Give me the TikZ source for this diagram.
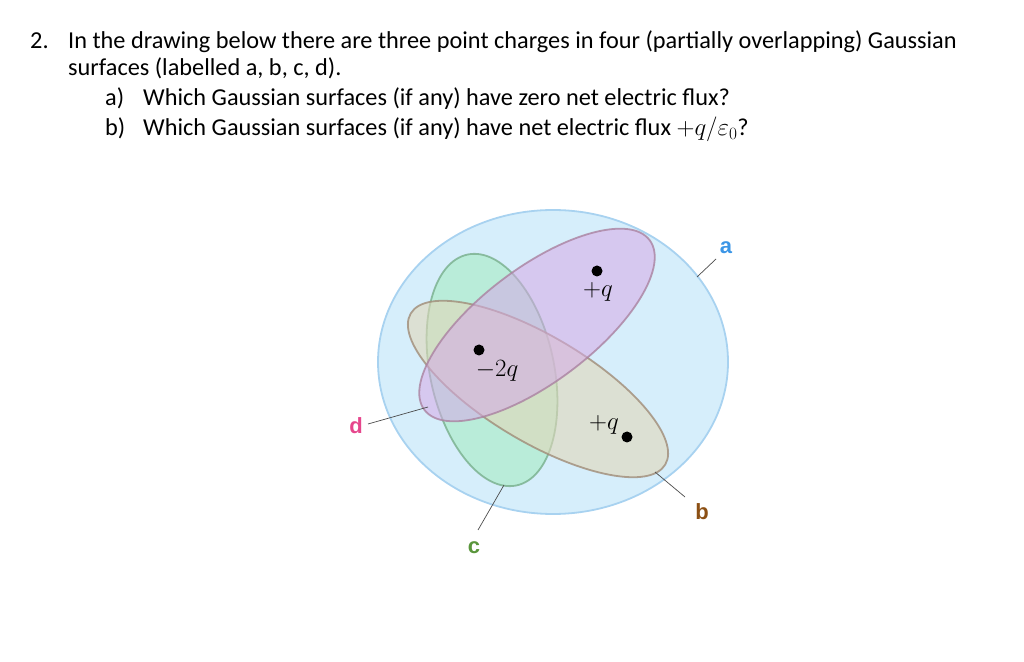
\documentclass[tikz,border=0pt]{standalone}
\usepackage{fontspec}
\setmainfont{Carlito}
\newfontfamily\lab{Liberation Sans}
\usetikzlibrary{shapes.geometric}
\definecolor{afill}{RGB}{214,238,251}
\definecolor{aline}{RGB}{168,210,240}
\definecolor{dfill}{RGB}{214,170,230}
\definecolor{dline}{RGB}{170,130,160}
\definecolor{cfill}{RGB}{170,235,200}
\definecolor{cline}{RGB}{120,175,140}
\definecolor{bfill}{RGB}{225,215,185}
\definecolor{bline}{RGB}{160,140,120}
\definecolor{acol}{RGB}{60,150,230}
\definecolor{bcol}{RGB}{140,80,20}
\definecolor{ccol}{RGB}{90,150,60}
\definecolor{dcol}{RGB}{230,70,140}
\tikzset{
 surf/.style={ellipse,line width=1.8pt,inner sep=0pt,outer sep=0pt},
 dotc/.style={circle,fill=black,inner sep=0pt,minimum size=11pt},
 chg/.style={font=\fontsize{27}{27}\selectfont,inner sep=0pt},
 lbl/.style={font=\lab\bfseries\fontsize{22}{22}\selectfont,inner sep=0pt},
 lead/.style={draw=black!70,line width=0.7pt},
 txt/.style={anchor=base west,inner sep=0pt,font=\fontsize{24.3}{24.3}\selectfont}
}
\begin{document}
\begin{tikzpicture}[x=1pt,y=1pt]
\useasboundingbox (0,0) rectangle (1024,661);
% text
\node[txt] (n2) at (30,612) {2.};
\node[txt] (l1) at (68,612) {In the drawing below there are three point charges in four (partially overlapping) Gaussian};
\node[txt] (l2) at (68,585) {surfaces (labelled a, b, c, d).};
\node[txt] (l3) at (105,555) {a)};
\node[txt] (l3t) at (143,555) {Which Gaussian surfaces (if any) have zero net electric flux?};
\node[txt] (l4) at (105,525) {b)};
\node[txt] (l4t) at (143,525) {Which Gaussian surfaces (if any) have net electric flux $+q/\varepsilon_0$?};
% surfaces
\node[surf,draw=aline,fill=afill,minimum width=350pt,minimum height=304pt] (A) at (553,299) {};
\node[surf,draw=cline,fill=cfill,fill opacity=0.65,draw opacity=0.8,minimum width=124pt,minimum height=236pt,rotate=12] (C) at (492,291) {};
\node[surf,draw=bline,fill=bfill,fill opacity=0.6,draw opacity=0.8,minimum width=296pt,minimum height=106pt,rotate=-30.7] (B) at (538,272) {};
\node[surf,draw=dline,fill=dfill,fill opacity=0.55,draw opacity=0.8,minimum width=282pt,minimum height=114pt,rotate=37] (D) at (537,336) {};
% charges
\node[dotc] (q1) at (597,390) {};
\node[chg] (q1l) at (598,369) {$+q$};
\node[dotc] (q2) at (479,311) {};
\node[chg] (q2l) at (497,290) {$-2q$};
\node[dotc] (q3) at (627,224) {};
\node[chg] (q3l) at (604,236) {$+q$};
% labels
\node[lbl,text=acol] (la) at (726,413) {a};
\node[lbl,text=bcol] (lb) at (702,149) {b};
\node[lbl,text=ccol] (lc) at (474,113) {c};
\node[lbl,text=dcol] (ld) at (356,235) {d};
\coordinate (pa) at (697,384);
\coordinate (pb) at (655,189);
\coordinate (pc) at (504,176);
\coordinate (pd) at (428,254);
\draw[lead] (pa) -- (716,402);
\draw[lead] (pb) -- (685,164);
\draw[lead] (pc) -- (478,131);
\draw[lead] (pd) -- (368,237);
\end{tikzpicture}
\end{document}
